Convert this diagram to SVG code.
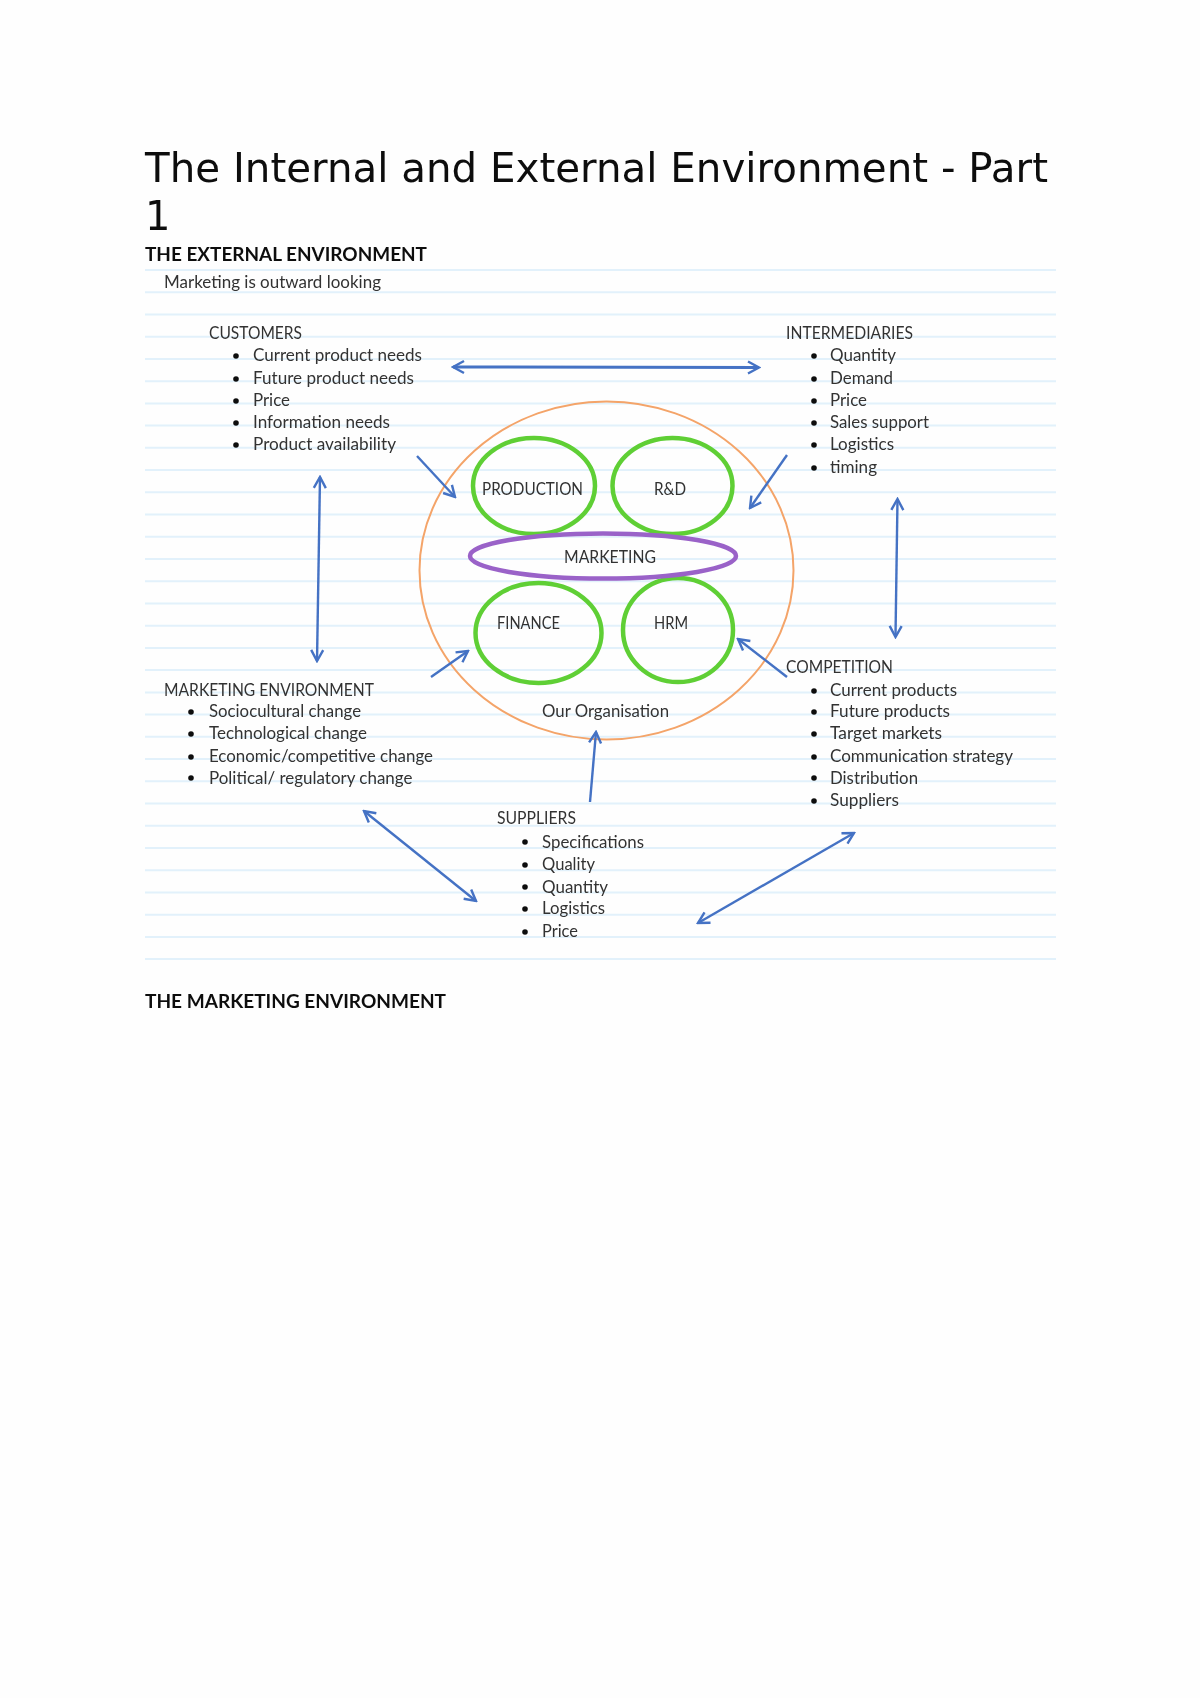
<svg xmlns="http://www.w3.org/2000/svg" width="1200" height="1698" viewBox="0 0 1200 1698">
<style>
text{font-family:"Lato","Liberation Sans",sans-serif;font-size:16.5px;fill:#333}
.title{font-family:"DejaVu Sans",sans-serif;font-size:40px;fill:#111}
.head{font-weight:700;font-size:18px;fill:#111}
.rule{stroke:#e2f1fb;stroke-width:2;fill:none}
.bullet{fill:#111}
.org{fill:none;stroke:#f4a469;stroke-width:2}
.dept{fill:none;stroke:#5fcf36;stroke-width:4.500}
.mkt{fill:none;stroke:#9a62c8;stroke-width:4.500}
.arrow{fill:none;stroke:#4472c4;stroke-width:2.400}
.d{marker-end:url(#ah)}
.dd{marker-start:url(#ah);marker-end:url(#ah)}
</style>
<defs>
<marker id="ah" viewBox="-14 -8 16 16" refX="0" refY="0" markerWidth="16" markerHeight="16" markerUnits="userSpaceOnUse" orient="auto-start-reverse"><path d="M-11 -6L0 0L-11 6" fill="none" stroke="#4472c4" stroke-width="2.400"/></marker>
<filter id="soft" x="-2%" y="-2%" width="104%" height="104%"><feGaussianBlur stdDeviation="0.7"/></filter>
</defs>
<rect width="1200" height="1698" fill="#fefefe"/>
<g id="page-heading" filter="url(#soft)">
<text class="title" x="145" y="182" textLength="903" lengthAdjust="spacingAndGlyphs">The Internal and External Environment - Part</text>
<text class="title" x="145" y="230">1</text>
<text class="head" x="145" y="261" textLength="282" lengthAdjust="spacingAndGlyphs">THE EXTERNAL ENVIRONMENT</text>
<text class="head" x="145" y="1008" textLength="301" lengthAdjust="spacingAndGlyphs">THE MARKETING ENVIRONMENT</text>
</g>
<g filter="url(#soft)">
<g id="ruled-lines">
<path class="rule" d="M145 270H1056M145 292.2H1056M145 314.5H1056M145 336.7H1056M145 358.9H1056M145 381.2H1056M145 403.4H1056M145 425.6H1056M145 447.8H1056M145 470.1H1056M145 492.3H1056M145 514.5H1056M145 536.8H1056M145 559H1056M145 581.2H1056M145 603.5H1056M145 625.7H1056M145 647.9H1056M145 670.1H1056M145 692.4H1056M145 714.6H1056M145 736.8H1056M145 759.1H1056M145 781.3H1056M145 803.5H1056M145 825.8H1056M145 848H1056M145 870.2H1056M145 892.4H1056M145 914.7H1056M145 936.9H1056M145 959.1H1056"/>
</g>
<text id="subtitle" x="164" y="288" textLength="217" lengthAdjust="spacingAndGlyphs">Marketing is outward looking</text>
<g id="customers">
<text x="209" y="339" textLength="93" lengthAdjust="spacingAndGlyphs">CUSTOMERS</text>
<circle class="bullet" cx="236" cy="356" r="2.800"/><circle class="bullet" cx="236" cy="379" r="2.800"/><circle class="bullet" cx="236" cy="401" r="2.800"/><circle class="bullet" cx="236" cy="423" r="2.800"/><circle class="bullet" cx="236" cy="445" r="2.800"/>
<text x="253" y="361" textLength="169" lengthAdjust="spacingAndGlyphs">Current product needs</text>
<text x="253" y="384" textLength="161" lengthAdjust="spacingAndGlyphs">Future product needs</text>
<text x="253" y="406" textLength="37" lengthAdjust="spacingAndGlyphs">Price</text>
<text x="253" y="428" textLength="137" lengthAdjust="spacingAndGlyphs">Information needs</text>
<text x="253" y="450" textLength="143" lengthAdjust="spacingAndGlyphs">Product availability</text>
</g>
<g id="intermediaries">
<text x="786" y="339" textLength="127" lengthAdjust="spacingAndGlyphs">INTERMEDIARIES</text>
<circle class="bullet" cx="814" cy="356" r="2.800"/><circle class="bullet" cx="814" cy="379" r="2.800"/><circle class="bullet" cx="814" cy="401" r="2.800"/><circle class="bullet" cx="814" cy="423" r="2.800"/><circle class="bullet" cx="814" cy="445" r="2.800"/><circle class="bullet" cx="814" cy="468" r="2.800"/>
<text x="830" y="361" textLength="66" lengthAdjust="spacingAndGlyphs">Quantity</text>
<text x="830" y="384" textLength="63" lengthAdjust="spacingAndGlyphs">Demand</text>
<text x="830" y="406" textLength="37" lengthAdjust="spacingAndGlyphs">Price</text>
<text x="830" y="428" textLength="99" lengthAdjust="spacingAndGlyphs">Sales support</text>
<text x="830" y="450" textLength="64" lengthAdjust="spacingAndGlyphs">Logistics</text>
<text x="830" y="473" textLength="47" lengthAdjust="spacingAndGlyphs">timing</text>
</g>
<g id="marketing-environment">
<text x="164" y="696" textLength="210" lengthAdjust="spacingAndGlyphs">MARKETING ENVIRONMENT</text>
<circle class="bullet" cx="191" cy="712" r="2.800"/><circle class="bullet" cx="191" cy="734" r="2.800"/><circle class="bullet" cx="191" cy="757" r="2.800"/><circle class="bullet" cx="191" cy="778" r="2.800"/>
<text x="209" y="717" textLength="152" lengthAdjust="spacingAndGlyphs">Sociocultural change</text>
<text x="209" y="739" textLength="158" lengthAdjust="spacingAndGlyphs">Technological change</text>
<text x="209" y="762" textLength="224" lengthAdjust="spacingAndGlyphs">Economic/competitive change</text>
<text x="209" y="784" textLength="203.500" lengthAdjust="spacingAndGlyphs">Political/ regulatory change</text>
</g>
<g id="competition">
<text x="786" y="673" textLength="107" lengthAdjust="spacingAndGlyphs">COMPETITION</text>
<circle class="bullet" cx="814" cy="691" r="2.800"/><circle class="bullet" cx="814" cy="712" r="2.800"/><circle class="bullet" cx="814" cy="734" r="2.800"/><circle class="bullet" cx="814" cy="757" r="2.800"/><circle class="bullet" cx="814" cy="778" r="2.800"/><circle class="bullet" cx="814" cy="801" r="2.800"/>
<text x="830" y="696" textLength="127" lengthAdjust="spacingAndGlyphs">Current products</text>
<text x="830" y="717" textLength="120" lengthAdjust="spacingAndGlyphs">Future products</text>
<text x="830" y="739" textLength="112" lengthAdjust="spacingAndGlyphs">Target markets</text>
<text x="830" y="762" textLength="183" lengthAdjust="spacingAndGlyphs">Communication strategy</text>
<text x="830" y="784" textLength="88" lengthAdjust="spacingAndGlyphs">Distribution</text>
<text x="830" y="806" textLength="69" lengthAdjust="spacingAndGlyphs">Suppliers</text>
</g>
<g id="suppliers">
<text x="497" y="824" textLength="79" lengthAdjust="spacingAndGlyphs">SUPPLIERS</text>
<circle class="bullet" cx="525" cy="842" r="2.800"/><circle class="bullet" cx="525" cy="865" r="2.800"/><circle class="bullet" cx="525" cy="887" r="2.800"/><circle class="bullet" cx="525" cy="909" r="2.800"/><circle class="bullet" cx="525" cy="932" r="2.800"/>
<text x="542" y="848" textLength="102" lengthAdjust="spacingAndGlyphs">Specifications</text>
<text x="542" y="870" textLength="53" lengthAdjust="spacingAndGlyphs">Quality</text>
<text x="542" y="893" textLength="66" lengthAdjust="spacingAndGlyphs">Quantity</text>
<text x="542" y="914" textLength="63" lengthAdjust="spacingAndGlyphs">Logistics</text>
<text x="542" y="937" textLength="36" lengthAdjust="spacingAndGlyphs">Price</text>
</g>
<g id="organisation">
<ellipse class="org" cx="606.500" cy="570.500" rx="187" ry="169"/>
<text x="542" y="717" textLength="127" lengthAdjust="spacingAndGlyphs">Our Organisation</text>
</g>
<g id="production"><ellipse class="dept" cx="534" cy="486" rx="61" ry="48"/><text x="482" y="495" textLength="101" lengthAdjust="spacingAndGlyphs">PRODUCTION</text></g>
<g id="rnd"><ellipse class="dept" cx="672.500" cy="486" rx="60" ry="48"/><text x="654" y="495" textLength="32" lengthAdjust="spacingAndGlyphs">R&amp;D</text></g>
<g id="finance"><ellipse class="dept" cx="538.500" cy="633" rx="63" ry="50"/><text x="497" y="629" textLength="63" lengthAdjust="spacingAndGlyphs">FINANCE</text></g>
<g id="hrm"><ellipse class="dept" cx="678" cy="630" rx="55" ry="52"/><text x="654" y="629" textLength="34" lengthAdjust="spacingAndGlyphs">HRM</text></g>
<g id="marketing"><ellipse class="mkt" cx="603" cy="556" rx="133" ry="22.500"/><text x="564" y="563" textLength="92" lengthAdjust="spacingAndGlyphs">MARKETING</text></g>
<g id="connectors">
<path class="arrow dd" style="stroke-width:3" d="M453 367L759 367.500"/>
<path class="arrow dd" d="M320 477L317 661"/>
<path class="arrow dd" d="M897.500 499L895.500 637"/>
<path class="arrow dd" d="M364 811L476 901"/>
<path class="arrow dd" d="M854 833L698 923"/>
<path class="arrow d" d="M417 456L455 497"/>
<path class="arrow d" d="M787 455L750 508"/>
<path class="arrow d" d="M431 677L468 651"/>
<path class="arrow d" d="M787 677L738 639"/>
<path class="arrow d" d="M590 802L596 732"/>
</g>
</g>
</svg>
